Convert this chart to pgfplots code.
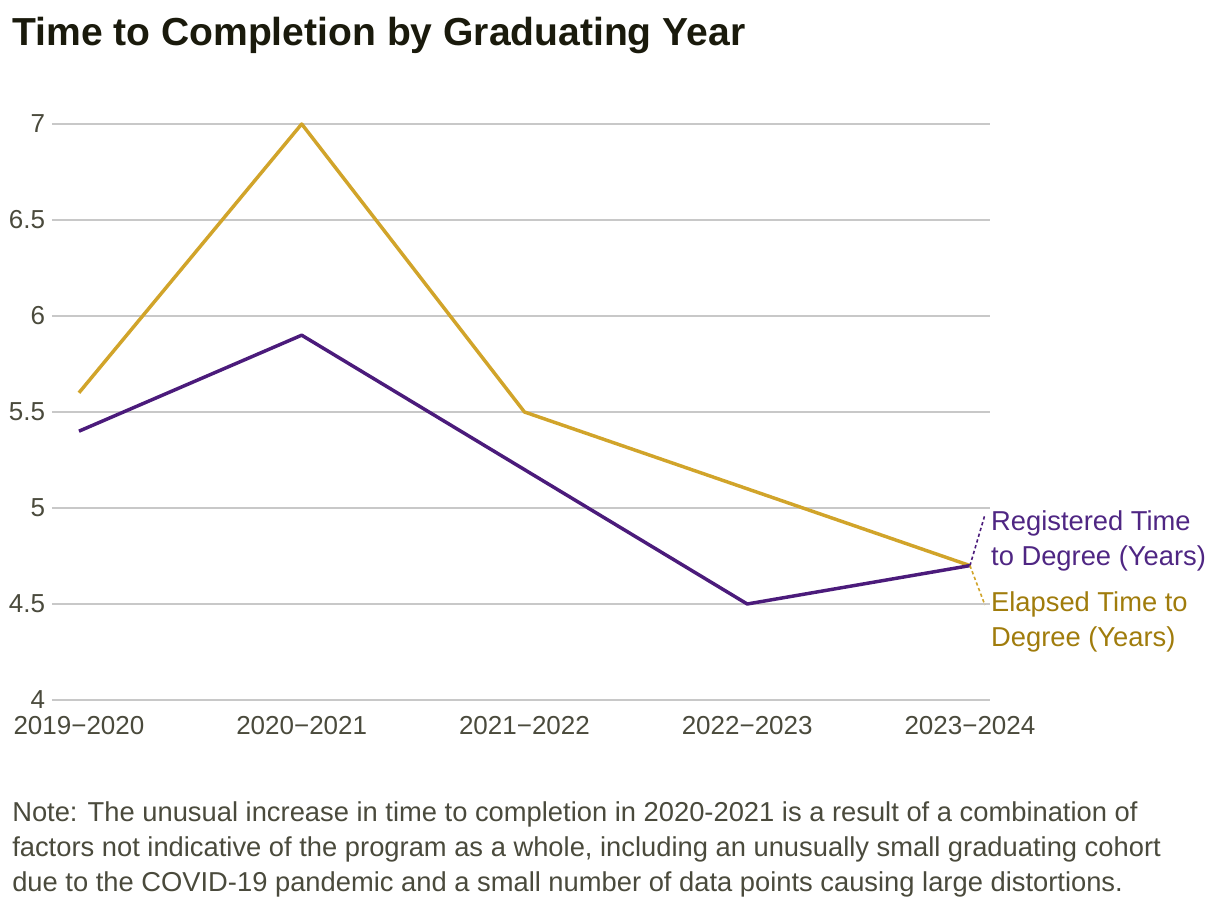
\documentclass[border=0pt]{standalone}
\usepackage{fontspec}
\setmainfont{Liberation Sans}
\usepackage{pgfplots}
\pgfplotsset{compat=1.18}
\definecolor{gold}{HTML}{D1A42A}
\definecolor{goldtext}{HTML}{A07C0C}
\definecolor{purp}{HTML}{4B1B7B}
\definecolor{purptext}{HTML}{4F2683}
\definecolor{ticktext}{HTML}{4A4A3C}
\definecolor{titletext}{HTML}{1A1A0C}
\definecolor{gridc}{HTML}{C8C8C8}
\begin{document}
\begin{tikzpicture}[x=0.75pt,y=0.75pt]
% canvas 1220 x 916 px, y up
\path[use as bounding box] (0,0) rectangle (1220,916);
\node[anchor=base west,inner sep=0,text=titletext,font=\fontsize{29.3}{34}\selectfont\bfseries] at (12,870) {Time to Completion by Graduating Year};
\begin{axis}[
    at={(39pt,162pt)}, anchor=south west,
    width=703.5pt, height=432pt, scale only axis,
    xmin=-0.121, xmax=4.09,
    ymin=4, ymax=7,
    axis line style={draw=none},
    ytick={4,4.5,5,5.5,6,6.5,7},
    xtick={0,1,2,3,4},
    xticklabels={2019\textminus2020,2020\textminus2021,2021\textminus2022,2022\textminus2023,2023\textminus2024},
    major tick length=0pt,
    ymajorgrids, grid style={gridc,line width=1.1pt},
    tick label style={text=ticktext,font=\fontsize{19.5}{22}\selectfont},
    /pgf/number format/assume math mode=true,
    yticklabel style={anchor=east,inner sep=0pt,xshift=-5pt},
    xticklabel style={anchor=north,inner sep=0pt,yshift=-12pt},
    clip=false,
]
\addplot[gold,line width=2.6pt,line join=round] coordinates {(0,5.6)(1,7.0)(2,5.5)(3,5.1)(4,4.7)};
\addplot[purp,line width=2.6pt,line join=round] coordinates {(0,5.4)(1,5.9)(2,5.2)(3,4.5)(4,4.7)};
\draw[purp,dash pattern=on 2.5pt off 2pt,line width=1.2pt] (axis cs:4,4.7) -- (axis cs:4.067,4.964);
\draw[gold,dash pattern=on 2.5pt off 2pt,line width=1.2pt] (axis cs:4,4.7) -- (axis cs:4.067,4.495);
\node[anchor=west,align=left,inner sep=0pt,text=purptext,font=\fontsize{20.5}{26.25}\selectfont] at (axis cs:4.094,4.831) {Registered Time\\to Degree (Years)};
\node[anchor=west,align=left,inner sep=0pt,text=goldtext,font=\fontsize{20.5}{26.25}\selectfont] at (axis cs:4.094,4.404) {Elapsed Time to\\Degree (Years)};
\end{axis}
\node[anchor=base west,align=left,inner sep=0,text=ticktext,font=\fontsize{20.5}{26.25}\selectfont] at (12,24) {Note: The unusual increase in time to completion in 2020-2021 is a result of a combination of\\factors not indicative of the program as a whole, including an unusually small graduating cohort\\due to the COVID-19 pandemic and a small number of data points causing large distortions.};
\end{tikzpicture}
\end{document}
